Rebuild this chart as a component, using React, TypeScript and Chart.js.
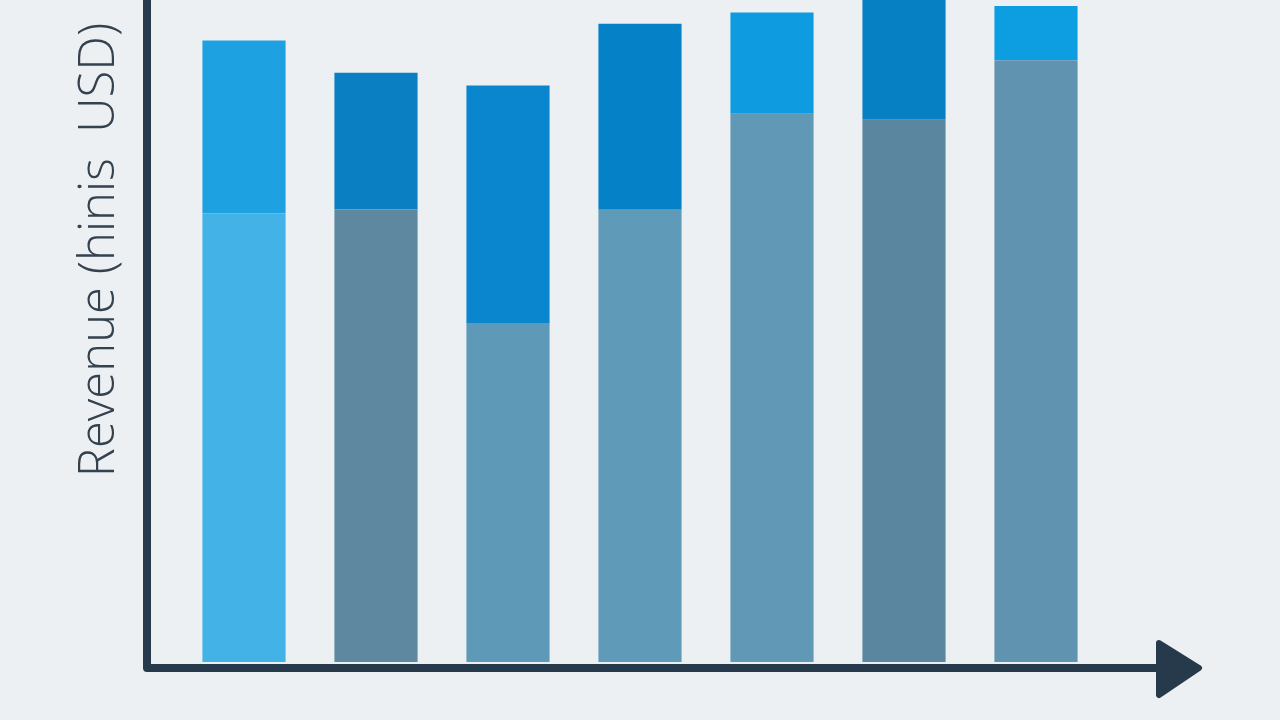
import React, { useEffect, useRef } from "react";
import { Chart, registerables } from "chart.js";

Chart.register(...registerables);

const categories = ["1", "2", "3", "4", "5", "6", "7"];
const baseValues = [67.8, 68.4, 51.1, 68.3, 82.8, 81.9, 90.9];
const topValues = [26.1, 20.6, 36.0, 28.1, 15.3, 19.0, 8.2];
const baseColors = ["#43b2e6", "#5e88a0", "#5e9ab8", "#5f9ab8", "#6098b6", "#5a86a0", "#6093b0"];
const topColors = ["#1ea1e0", "#0a7fc2", "#0986cd", "#0581c8", "#0e9be0", "#0780c3", "#0d9ee2"];
const yTitle = "Revenue (hinis  USD)";

const axisPlugin = {
  id: "axisArrows",
  afterDatasetsDraw(chart: any) {
    const { ctx, chartArea } = chart;
    const axisX = chartArea.left - 31;
    const axisY = chartArea.bottom + 6;
    ctx.save();
    ctx.strokeStyle = "#263a4c";
    ctx.fillStyle = "#263a4c";
    ctx.lineWidth = 8;
    ctx.lineCap = "round";
    ctx.lineJoin = "round";
    ctx.beginPath();
    ctx.moveTo(axisX, chartArea.top - 10);
    ctx.lineTo(axisX, axisY);
    ctx.lineTo(chartArea.right + 62, axisY);
    ctx.stroke();
    // arrow head
    const bx = chartArea.right + 57;
    const tip = chartArea.right + 97;
    ctx.lineWidth = 6;
    ctx.beginPath();
    ctx.moveTo(bx, axisY - 25);
    ctx.lineTo(tip, axisY);
    ctx.lineTo(bx, axisY + 27);
    ctx.closePath();
    ctx.fill();
    ctx.stroke();
    // title
    ctx.translate(chartArea.left - 78, chartArea.top + 250);
    ctx.rotate(-Math.PI / 2);
    ctx.font = "300 49px 'Open Sans', 'DejaVu Sans', sans-serif";
    ctx.fillStyle = "#34414e";
    ctx.textAlign = "center";
    ctx.textBaseline = "middle";
    ctx.fillText(yTitle, 0, 0);
    ctx.restore();
  },
};

const bgPlugin = {
  id: "bg",
  beforeDraw(chart: any) {
    const { ctx, width, height } = chart;
    ctx.save();
    ctx.fillStyle = "#edf0f3";
    ctx.fillRect(0, 0, width, height);
    ctx.restore();
  },
};

export default function App() {
  const ref = useRef<HTMLCanvasElement | null>(null);
  useEffect(() => {
    if (!ref.current) return;
    const chart = new Chart(ref.current, {
      type: "bar",
      data: {
        labels: categories,
        datasets: [
          { label: "Base", data: baseValues, backgroundColor: baseColors, borderWidth: 0 },
          { label: "Top", data: topValues, backgroundColor: topColors, borderWidth: 0 },
        ],
      },
      options: {
        animation: false,
        responsive: false,
        devicePixelRatio: 1,
        layout: { padding: { left: 178, right: 178, top: 0, bottom: 58 } },
        datasets: { bar: { barPercentage: 0.63, categoryPercentage: 1 } },
        plugins: { legend: { display: false }, tooltip: { enabled: false }, title: { display: false } },
        scales: {
          x: { stacked: true, display: false, grid: { display: false } },
          y: { stacked: true, display: false, min: 0, max: 100, grid: { display: false } },
        },
      },
      plugins: [bgPlugin, axisPlugin],
    });
    return () => chart.destroy();
  }, []);
  return (
    <div style={{ position: "fixed", left: 0, top: 0, width: 1280, height: 720, background: "#edf0f3" }}>
      <canvas ref={ref} width={1280} height={720} style={{ width: 1280, height: 720, display: "block" }} />
    </div>
  );
}
